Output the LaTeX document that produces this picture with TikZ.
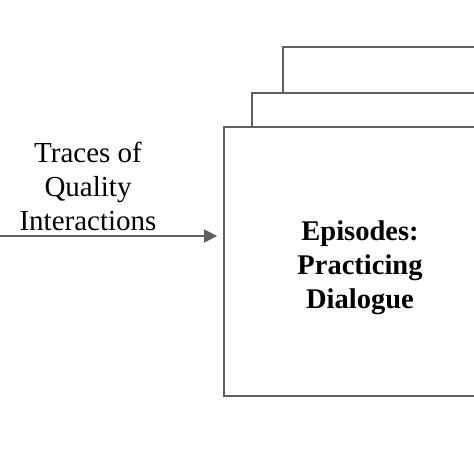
\documentclass[tikz,border=0pt]{standalone}
\usepackage{fontspec}
\setmainfont{Liberation Serif}
\usetikzlibrary{arrows.meta,positioning}
\definecolor{linegray}{RGB}{95,95,95}
\tikzset{
  sheet/.style={draw=linegray, line width=1.8pt, fill=white, rectangle,
                minimum width=272pt, minimum height=269pt, inner sep=0pt},
  flow/.style={draw=linegray, line width=1.6pt,
               -{Triangle[length=13pt,width=13pt]}, shorten >=6pt},
  caption/.style={align=center, font=\fontsize{29}{34}\selectfont, inner sep=0pt}
}
\begin{document}
\begin{tikzpicture}[x=1pt,y=-1pt]
        \useasboundingbox (0,0) rectangle (474,474);
        \begin{scope}
        \clip (0,0) rectangle (474,474);

        % stacked episodes
        \node[sheet] (back) at (419,181.5) {};
        \node[sheet] (middle) at (388,227.5) {};
        \node[sheet] (front) at (360,261.5) {};
        \end{scope}
        \node[caption, font=\fontsize{28.5}{34}\selectfont\bfseries, below=6pt of front.center, anchor=center]
              (episodes) {Episodes:\\Practicing\\Dialogue};

        % traces
        \coordinate (src) at (0,236);
        \node[caption, anchor=base] (traces) at (88,230) {Traces of\\Quality\\Interactions};
        \draw[flow] (src) -- (src -| front.west);

\end{tikzpicture}
\end{document}
